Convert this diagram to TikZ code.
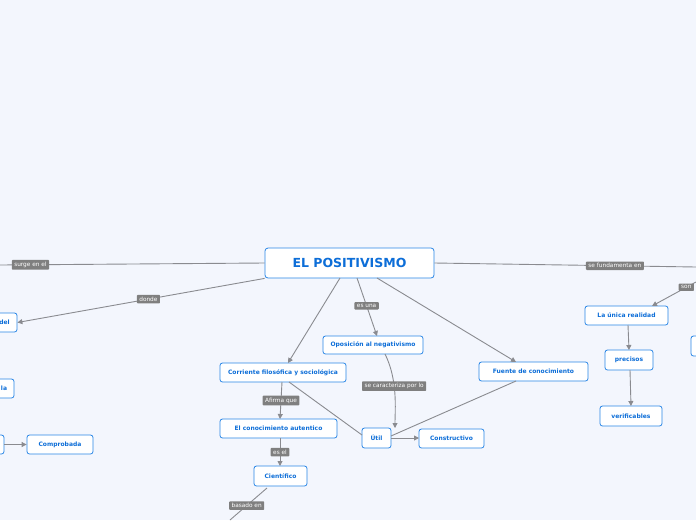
\documentclass[tikz,border=0pt]{standalone}
\usepackage{fontspec}
\setmainfont{DejaVu Sans}
\usetikzlibrary{arrows.meta}
\definecolor{bg}{HTML}{F3F6FD}
\definecolor{nb}{HTML}{2A86E6}
\definecolor{nt}{HTML}{0D6ED8}
\definecolor{ed}{HTML}{8A8B90}
\definecolor{lb}{HTML}{7F7F7F}
\tikzset{
 nd/.style={draw=nb,line width=0.8pt,fill=white,rounded corners=2.5pt,text=nt,font=\fontsize{6}{7}\selectfont\bfseries,inner sep=0pt},
 lab/.style={fill=lb,text=white,font=\fontsize{5.8}{7}\selectfont,inner xsep=2.5pt,inner ysep=2pt,rounded corners=0.8pt},
 ed/.style={draw=ed,line width=0.9pt},
 ar/.style={ed,-{Triangle[length=5pt,width=5pt]}}
}
\begin{document}
\begin{tikzpicture}[x=1pt,y=-1pt]
\fill[bg] (0,0) rectangle (696,520);
\useasboundingbox (0,0) rectangle (696,520);
\begin{scope}
\clip (0,0) rectangle (696,520);
\node[nd,minimum width=169,minimum height=30,font=\fontsize{12.5}{14}\selectfont\bfseries,rounded corners=3pt] (main) at (349.5,263) {EL POSITIVISMO};
\node[nd,minimum width=47,minimum height=19] (del) at (-6.5,322.5) {\hspace*{22pt}del};
\node[nd,minimum width=44,minimum height=19] (la) at (-8,388.5) {\hspace*{24pt}la};
\node[nd,minimum width=40,minimum height=19] (x3) at (-16,444.5) {};
\node[nd,minimum width=66,minimum height=19] (comp) at (60,444.5) {Comprobada};
\node[nd,minimum width=126,minimum height=19] (corr) at (283,372.5) {Corriente filosófica y sociológica};
\node[nd,minimum width=100,minimum height=18] (opo) at (373,345) {Oposición al negativismo};
\node[nd,minimum width=109,minimum height=19] (fue) at (533.5,371.5) {Fuente de conocimiento};
\node[nd,minimum width=117,minimum height=19] (con) at (278.5,428.5) {El conocimiento autentico};
\node[nd,minimum width=53,minimum height=20] (cie) at (280.5,476) {Científico};
\node[nd,minimum width=29,minimum height=20] (util) at (376.5,438) {Útil};
\node[nd,minimum width=65,minimum height=19] (cons) at (451.5,438.5) {Constructivo};
\node[nd,minimum width=83,minimum height=19] (uni) at (626.5,315.5) {La única realidad};
\node[nd,minimum width=48,minimum height=20] (pre) at (629,360) {precisos};
\node[nd,minimum width=62,minimum height=20] (ver) at (631,416) {verificables};
\node[nd,minimum width=30,minimum height=20] (rb) at (706,346) {};
\coordinate (offL) at (0,265);
\coordinate (offR) at (696,267);
\coordinate (offR2) at (696,282);
\coordinate (offB) at (230,520);
\draw[ed] (main.west) -- node[lab,pos=0.885]{surge en el} (offL);
\draw[ar] (main.south west) -- node[lab,pos=0.47]{donde} (del.east);
\draw[ed] (main.east) -- node[lab,pos=0.69]{se fundamenta en} (offR);
\draw[ar] (offR2) -- node[lab,pos=0.22]{son} (652,306);
\draw[ar] (340,278) -- (288,363);
\draw[ar] (357,278) -- node[lab,pos=0.48]{es una} (377,336);
\draw[ar] (377,278) -- (516,362);
\draw[ar] (385,354) .. controls (398,380) and (395,410) .. node[lab,pos=0.4]{se caracteriza por lo} (395,428);
\draw[ed] (289,382) -- (362,435);
\draw[ed] (516,381) -- (391,436);
\draw[ar] (391,438) -- (419,438);
\draw[ar] (282,382) -- node[lab]{Afirma que} (280,419);
\draw[ar] (280,438) -- node[lab]{es el} (280,466);
\draw[ed] (267,488) -- node[lab,pos=0.55]{basado en} (offB);
\draw[ar] (628,325) -- (629,350);
\draw[ar] (630,370) -- (631,406);
\draw[ar] (x3.east) -- (comp.west);
\end{scope}
\end{tikzpicture}
\end{document}
